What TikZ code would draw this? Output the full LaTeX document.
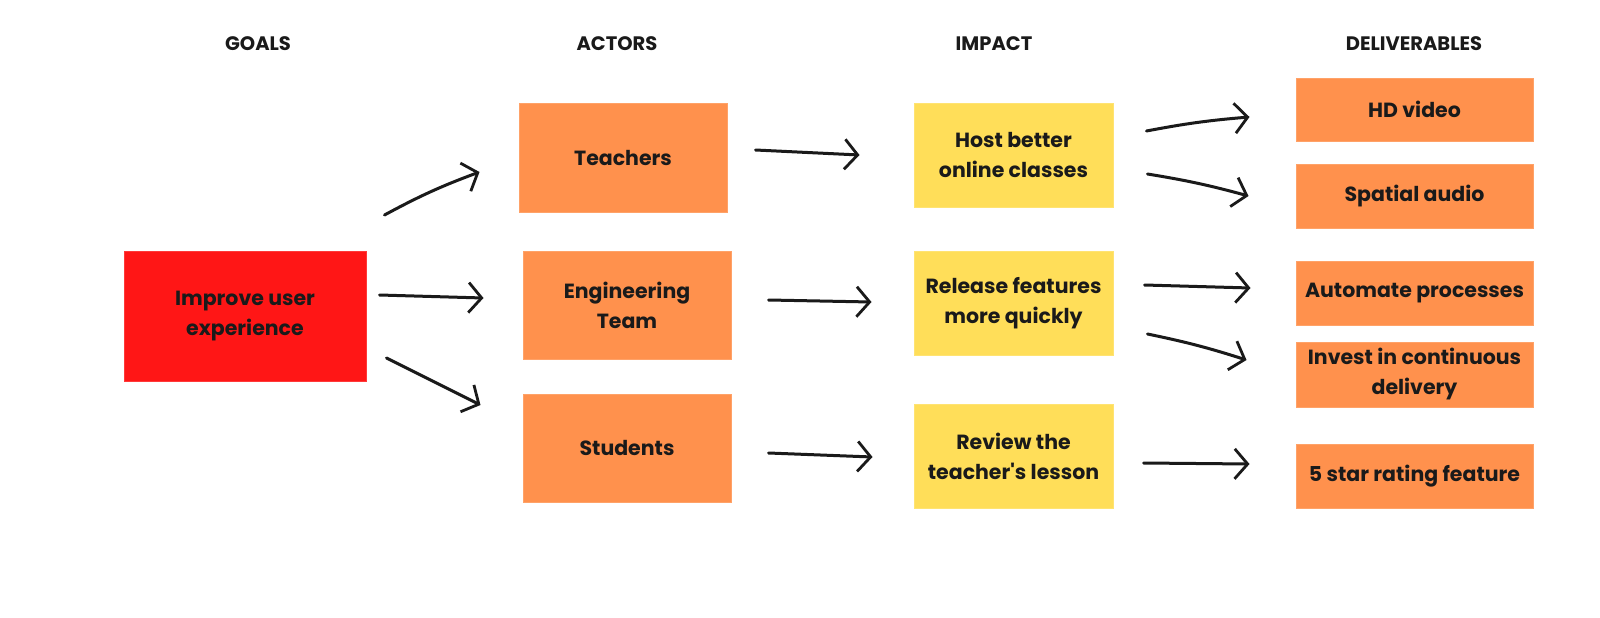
\documentclass[tikz,border=0pt]{standalone}
\usepackage{fontspec}
\setmainfont{Poppins}
\usetikzlibrary{arrows.meta}
\definecolor{redbox}{HTML}{FF1616}
\definecolor{orangebox}{HTML}{FF914D}
\definecolor{yellowbox}{HTML}{FFDE59}
\definecolor{ink}{HTML}{1A1A1A}
\begin{document}
\begin{tikzpicture}[x=1pt,y=-1pt,
  box/.style={fill=#1, draw=#1!85!white, line width=1pt, inner sep=0pt, align=center,
    text=ink, font=\bfseries\fontsize{20.5}{30}\selectfont},
  header/.style={text=ink, font=\bfseries\fontsize{19.5}{22}\selectfont},
  arr/.style={line width=3pt, line cap=round, draw=ink,
    -{Straight Barb[length=13pt,width=30pt,line width=2.8pt]}}]
\useasboundingbox[fill=white] (0,0) rectangle (1600,618);
% headers
\node[header] (hgoals) at (258,44) {GOALS};
\node[header] (hactors) at (617,44) {ACTORS};
\node[header] (himpact) at (994,44) {IMPACT};
\node[header] (hdel) at (1414,44) {DELIVERABLES};
% goal
\node[box=redbox, minimum width=242pt, minimum height=130pt] (goal) at (245,316) {Improve user\\experience};
% actors
\node[box=orangebox, minimum width=208pt, minimum height=109pt] (teach) at (623,157.5) {Teachers};
\node[box=orangebox, minimum width=208pt, minimum height=108pt] (eng) at (627,305) {Engineering\\Team};
\node[box=orangebox, minimum width=208pt, minimum height=108pt] (stud) at (627,448) {Students};
% impact
\node[box=yellowbox, minimum width=199pt, minimum height=104pt] (host) at (1013.5,155) {Host better\\online classes};
\node[box=yellowbox, minimum width=199pt, minimum height=104pt] (rel) at (1013.5,303) {Release features\\more quickly};
\node[box=yellowbox, minimum width=199pt, minimum height=104pt] (rev) at (1013.5,456) {Review the\\teacher\textquotesingle s lesson};
% deliverables
\node[box=orangebox, minimum width=237pt, minimum height=63pt] (hd) at (1414.5,109.5) {HD video};
\node[box=orangebox, minimum width=237pt, minimum height=64pt] (sp) at (1414.5,196) {Spatial audio};
\node[box=orangebox, minimum width=237pt, minimum height=64pt] (auto) at (1414.5,293) {Automate processes};
\node[box=orangebox, minimum width=237pt, minimum height=65pt] (inv) at (1414.5,374.5) {Invest in continuous\\delivery};
\node[box=orangebox, minimum width=237pt, minimum height=64pt] (star) at (1414.5,476) {5 star rating feature};
% arrows
\draw[arr] ([shift={(18,-101)}]goal.east) to[bend left=4] ([shift={(-39,14.5)}]teach.west);
\draw[arr] ([shift={(13,-21)}]goal.east) -- ([shift={(-39,-7)}]eng.west);
\draw[arr] ([shift={(20,42)}]goal.east) -- ([shift={(-42,-43)}]stud.west);
\draw[arr] ([shift={(28,-7.5)}]teach.east) -- ([shift={(-54,0)}]host.west);
\draw[arr] ([shift={(37,-5)}]eng.east) -- ([shift={(-42,-1)}]rel.west);
\draw[arr] ([shift={(37,5)}]stud.east) -- ([shift={(-41,1)}]rev.west);
\draw[arr] ([shift={(33,-24)}]host.east) to[bend left=3] ([shift={(-46,7.5)}]hd.west);
\draw[arr] ([shift={(34,19)}]host.east) to[bend left=3] ([shift={(-47,0)}]sp.west);
\draw[arr] ([shift={(31,-18)}]rel.east) -- ([shift={(-45,-5)}]auto.west);
\draw[arr] ([shift={(34,31)}]rel.east) to[bend left=3] ([shift={(-49,-14.5)}]inv.west);
\draw[arr] ([shift={(30,7)}]rev.east) -- ([shift={(-46,-12)}]star.west);
\end{tikzpicture}
\end{document}
